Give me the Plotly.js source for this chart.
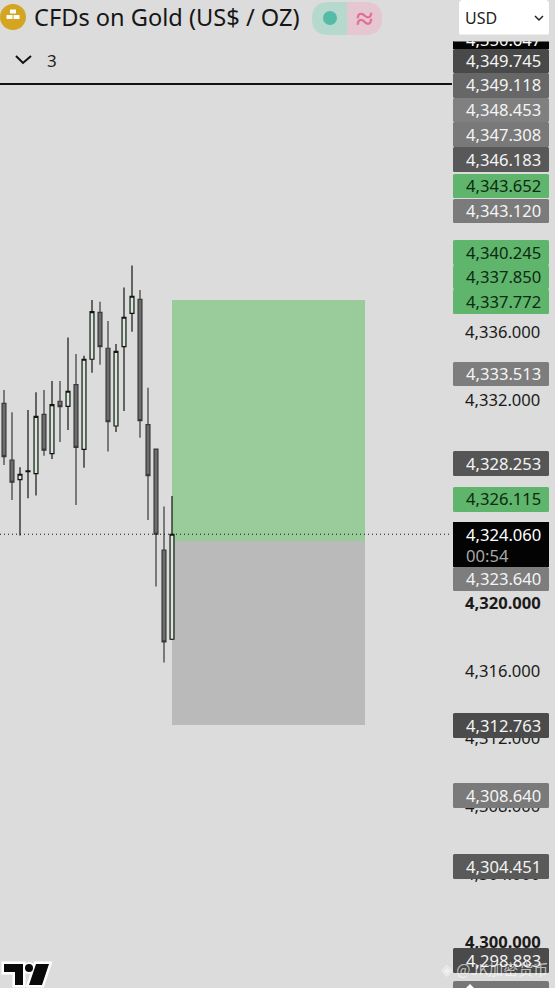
<!DOCTYPE html>
<html><head><meta charset="utf-8">
<script src="https://cdn.plot.ly/plotly-3.0.1.min.js"></script>
<style>html,body{margin:0;padding:0;background:#dcdcdc;overflow:hidden}#c{width:555px;height:988px}</style>
</head><body><div id="c"></div>
<script>
// ---- data ----
const opens  = [4331.79,4328.43,4327.28,4327.76,4327.64,4331.14,4328.82,4331.91,4331.61,4332.89,4329.07,4334.39,4337.16,4335.04,4330.45,4335.14,4337.10,4337.93,4330.53,4329.09,4323.13,4317.86];
const highs  = [4332.58,4331.26,4328.01,4331.40,4332.44,4332.58,4333.11,4333.11,4335.67,4334.70,4334.60,4337.89,4337.79,4336.65,4335.29,4338.62,4339.92,4338.48,4332.71,4329.09,4325.69,4326.32];
const lows   = [4328.15,4326.08,4323.98,4326.18,4326.34,4328.70,4328.50,4329.51,4330.22,4325.79,4327.99,4333.60,4334.07,4328.94,4330.10,4331.34,4336.02,4329.76,4324.90,4320.97,4316.48,4317.82];
const closes = [4328.64,4327.13,4327.60,4327.80,4331.02,4329.02,4331.71,4331.59,4332.50,4329.19,4334.39,4337.20,4335.14,4330.71,4334.86,4336.87,4338.11,4330.77,4327.52,4324.06,4317.70,4324.06];
const tickValues = [4336,4332,4320,4316,4312,4308,4304,4300];
const tickLabels = ['4,336.000','4,332.000','<b>4,320.000</b>','4,316.000','4,312.000','4,308.000','4,304.000','<b>4,300.000</b>'];
const lastPrice = 4324.06;
const targetPrice = 4337.89, entryPrice = 4323.66, stopPrice = 4312.80;
const zoneStart = 21, zoneEnd = 45.125;
const priceLabels = ['4,349.745','4,349.118','4,348.453','4,347.308','4,346.183','4,343.652','4,343.120','4,340.245','4,337.850','4,337.772','4,333.513','4,328.253','4,326.115','4,323.640','4,312.763','4,308.640','4,304.451','4,298.883'];
const labelColors = ['#494949','#676767','#808080','#797979','#585858','#5fb56b','#7b7b7b','#5fb56b','#5fb56b','#5fb56b','#7d7d7d','#555555','#5fb56b','#7d7d7d','#4b4b4b','#7a7a7a','#5a5a5a','#4a4a4a'];
const labelTops = [49,73,98,122,147,174,199,240,265,289,362,451,487,567,713,783,854,948];
const labelBottoms = [73,98,122,147,172,198,223,265,289,314,386,476,512,591,738,808,879,973];

// ---- layout helpers (page pixels to paper) ----
const W=452,H=988;
const X=p=>p/W, Y=p=>1-p/H;
const bg='#dcdcdc';
const labelFont='"Noto Sans"';
const poly=(pts)=>'M'+pts.map(p=>X(p[0])+','+Y(p[1])).join('L')+'Z';
const open=(pts)=>'M'+pts.map(p=>X(p[0])+','+Y(p[1])).join('L');
const paperShape=(o)=>Object.assign({type:'path',xref:'paper',yref:'paper',layer:'above',line:{width:0}},o);
const rect=(x0,y0,x1,y1,fill)=>paperShape({path:poly([[x0,y0],[x1,y0],[x1,y1],[x0,y1]]),fillcolor:fill});
const round=(x0,y0,x1,y1,r,fill)=>paperShape({path:
  'M'+X(x0+r)+','+Y(y0)+'L'+X(x1-r)+','+Y(y0)+'Q'+X(x1)+','+Y(y0)+' '+X(x1)+','+Y(y0+r)+
  'L'+X(x1)+','+Y(y1-r)+'Q'+X(x1)+','+Y(y1)+' '+X(x1-r)+','+Y(y1)+
  'L'+X(x0+r)+','+Y(y1)+'Q'+X(x0)+','+Y(y1)+' '+X(x0)+','+Y(y1-r)+
  'L'+X(x0)+','+Y(y0+r)+'Q'+X(x0)+','+Y(y0)+' '+X(x0+r)+','+Y(y0)+'Z',fillcolor:fill});
const circle=(cx,cy,r,fill)=>({type:'circle',xref:'paper',yref:'paper',layer:'above',x0:X(cx-r),x1:X(cx+r),y0:Y(cy+r),y1:Y(cy-r),fillcolor:fill,line:{width:0}});
const text=(t,x,y,size,color,anchor,extra)=>Object.assign({text:t,xref:'paper',yref:'paper',x:X(x),y:Y(y),xanchor:anchor||'left',yanchor:'middle',showarrow:false,font:{family:labelFont,size:size,color:color},borderpad:0},extra||{});
const logoT=[[4,964],[23,964],[23,985],[15,985],[15,972],[4,972]];
const logoV=[[36,964],[49,964],[42,985],[29,985]];

const shapes=[
 {type:'rect',xref:'x',yref:'y',layer:'below',x0:zoneStart,x1:zoneEnd,y0:entryPrice,y1:targetPrice,fillcolor:'#9acb9a',line:{width:0}},
 {type:'rect',xref:'x',yref:'y',layer:'below',x0:zoneStart,x1:zoneEnd,y0:stopPrice,y1:entryPrice,fillcolor:'#bababa',line:{width:0}},
 {type:'line',xref:'paper',yref:'y',layer:'above',x0:0,x1:1,y0:lastPrice,y1:lastPrice,line:{color:'#111',width:1,dash:'1px,3px'}},
 rect(0,83,452,85,'#111'),
 // header
 circle(13,17,13,'#d4a520'),
 rect(6.5,15,12.5,19,'#fff'),rect(13.5,15,19.5,19,'#fff'),rect(10,9.5,16,13.5,'#fff'),
 paperShape({path:'M'+X(329)+','+Y(2)+'L'+X(347)+','+Y(2)+'L'+X(347)+','+Y(35)+'L'+X(329)+','+Y(35)+'Q'+X(312)+','+Y(35)+' '+X(312)+','+Y(18.5)+'Q'+X(312)+','+Y(2)+' '+X(329)+','+Y(2)+'Z',fillcolor:'#b6d9ce'}),
 paperShape({path:'M'+X(347)+','+Y(2)+'L'+X(365)+','+Y(2)+'Q'+X(382)+','+Y(2)+' '+X(382)+','+Y(18.5)+'Q'+X(382)+','+Y(35)+' '+X(365)+','+Y(35)+'L'+X(347)+','+Y(35)+'Z',fillcolor:'#e6c6d1'}),
 circle(330,18,7,'#55bba6'),
 round(459,0,549,36,4,'#ffffff'),
 paperShape({path:open([[535,16],[539,20],[543,16]]),line:{color:'#222',width:1.5}}),
 paperShape({path:open([[16,56],[23,63],[31,56]]),line:{color:'#111',width:2}}),
 // clipped top label, bottom label
 rect(453,41,549,49,'#050505'),
 round(453,981,549,992,2,'#777777'),
 paperShape({path:poly([[466,988],[470,984],[474,988]]),fillcolor:'#fff'}),
 // current price box
 rect(453,522,549,567,'#030303'),
 // TradingView logo
 paperShape({path:poly(logoT),fillcolor:'#fff',line:{color:'#fff',width:5}}),
 paperShape({path:poly(logoV),fillcolor:'#fff',line:{color:'#fff',width:5}}),
 circle(29,968,6,'#fff'),
 paperShape({path:poly(logoT),fillcolor:'#0a0a0a'}),
 paperShape({path:poly(logoV),fillcolor:'#0a0a0a'}),
 circle(29,968,4,'#0a0a0a'),
];
const annotations=[
 text('CFDs on Gold (US$ / OZ)',33,17,23.6,'#161616'),
 text('3',46,60,17,'#222'),
 text('USD',464,18,16,'#222'),
 text('<b>≈</b>',364,17,31,'#e0709a','center'),
 text('4,350.647',465,39.5,16.6,'#fff'),
 Object.assign(text(' ',453,38,6,'#000'),{bgcolor:bg,width:96,height:6}),
 text('4,324.060',465,534,16.6,'#fff'),
 text('00:54',465,555,16.6,'#a8a8a8'),
 text('◈ @JK加密货币',549,968,15,'rgba(255,255,255,0.65)','right',{font:{family:'"Noto Sans CJK SC"',size:15,color:'rgba(255,255,255,0.65)'}}),
];
priceLabels.forEach((t,i)=>{
  shapes.push(round(453,labelTops[i],549,labelBottoms[i],1.5,labelColors[i]));
  const green=labelColors[i]==='#5fb56b';
  annotations.splice(annotations.length-1,0,text(t,465,(labelTops[i]+labelBottoms[i])/2-0.5,16.6,green?'#0d2a12':'#f4f4f4'));
});

const trace={type:'candlestick',x:opens.map((_,i)=>i),open:opens,high:highs,low:lows,close:closes,
 increasing:{line:{color:'#141414',width:1.2},fillcolor:'#d6ead6'},
 decreasing:{line:{color:'#3a3a3a',width:1.2},fillcolor:'#6c6c6c'},
 whiskerwidth:0,hoverinfo:'skip',showlegend:false};

Plotly.newPlot('c',[trace],{
 width:555,height:988,margin:{l:0,r:103,t:0,b:0,pad:0},
 paper_bgcolor:bg,plot_bgcolor:bg,showlegend:false,
 xaxis:{range:[-0.5,56],visible:false,fixedrange:true,rangeslider:{visible:false},type:'linear'},
 yaxis:{range:[4297.27,4355.6],side:'right',tickmode:'array',tickvals:tickValues,ticktext:tickLabels,
   showgrid:false,zeroline:false,showline:false,ticks:'',ticklabelstandoff:12,fixedrange:true,
   tickfont:{family:labelFont,size:16.6,color:'#1a1a1a'}},
 shapes:shapes,annotations:annotations
},{displayModeBar:false,staticPlot:true});
</script></body></html>
